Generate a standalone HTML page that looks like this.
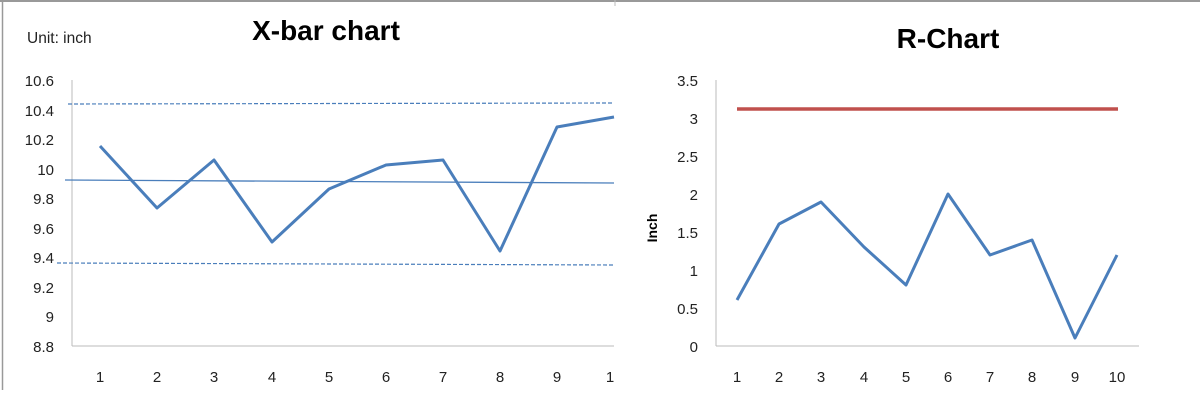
<!DOCTYPE html>
<html><head><style>
html,body{margin:0;padding:0;background:#fff;}
svg{display:block;font-family:"Liberation Sans",sans-serif;}
</style></head><body>
<svg width="1200" height="401" viewBox="0 0 1200 401">
<rect width="1200" height="401" fill="#fff"/>
<line x1="0" y1="1" x2="1200" y2="1" stroke="#999" stroke-width="2"/>
<line x1="2.5" y1="0" x2="2.5" y2="390" stroke="#999" stroke-width="1.5"/>
<line x1="615" y1="0" x2="615" y2="6" stroke="#bbb" stroke-width="1"/>

<!-- X-bar chart -->
<text x="326" y="40" font-size="28" font-weight="bold" text-anchor="middle" fill="#000">X-bar chart</text>
<text x="27" y="43" font-size="15.5" fill="#222">Unit: inch</text>
<line x1="72" y1="80" x2="72" y2="346" stroke="#bbb"/>
<line x1="72" y1="346" x2="614" y2="346" stroke="#bbb"/>
<g font-size="15" fill="#222" text-anchor="end">
<text x="54" y="86">10.6</text><text x="54" y="116">10.4</text><text x="54" y="145">10.2</text>
<text x="54" y="175">10</text><text x="54" y="204">9.8</text><text x="54" y="234">9.6</text>
<text x="54" y="263">9.4</text><text x="54" y="293">9.2</text><text x="54" y="322">9</text><text x="54" y="352">8.8</text>
</g>
<g font-size="15" fill="#222" text-anchor="middle">
<text x="100" y="382">1</text><text x="157" y="382">2</text><text x="214" y="382">3</text><text x="272" y="382">4</text>
<text x="329" y="382">5</text><text x="386" y="382">6</text><text x="443" y="382">7</text><text x="500" y="382">8</text>
<text x="557" y="382">9</text><text x="610" y="382">1</text>
</g>
<line x1="68" y1="104" x2="614" y2="103" stroke="#4a7ebb" stroke-width="1.2" stroke-dasharray="4,2"/>
<line x1="57" y1="263" x2="614" y2="265" stroke="#4a7ebb" stroke-width="1.2" stroke-dasharray="4,2"/>
<line x1="65" y1="180" x2="614" y2="183" stroke="#4a7ebb" stroke-width="1.3"/>
<polyline fill="none" stroke="#4a7ebb" stroke-width="3" stroke-linejoin="round" points="100,146 157,208 214,160 272,242 329,189 386,165 443,160 500,251 557,127 614,117"/>

<!-- R chart -->
<text x="948" y="48" font-size="28" font-weight="bold" text-anchor="middle" fill="#000">R-Chart</text>
<text transform="translate(657,228) rotate(-90)" font-size="14" font-weight="bold" text-anchor="middle" fill="#000">Inch</text>
<line x1="716" y1="80" x2="716" y2="346" stroke="#bbb"/>
<line x1="716" y1="346" x2="1139" y2="346" stroke="#bbb"/>
<g font-size="15" fill="#222" text-anchor="end">
<text x="698" y="86">3.5</text><text x="698" y="124">3</text><text x="698" y="162">2.5</text><text x="698" y="200">2</text>
<text x="698" y="238">1.5</text><text x="698" y="276">1</text><text x="698" y="314">0.5</text><text x="698" y="352">0</text>
</g>
<g font-size="15" fill="#222" text-anchor="middle">
<text x="737" y="382">1</text><text x="779" y="382">2</text><text x="821" y="382">3</text><text x="864" y="382">4</text>
<text x="906" y="382">5</text><text x="948" y="382">6</text><text x="990" y="382">7</text><text x="1032" y="382">8</text>
<text x="1075" y="382">9</text><text x="1117" y="382">10</text>
</g>
<line x1="737" y1="109" x2="1118" y2="109" stroke="#c0504d" stroke-width="3.5"/>
<polyline fill="none" stroke="#4a7ebb" stroke-width="3" stroke-linejoin="round" points="737,300 779,224 821,202 864,247 906,285 948,194 990,255 1032,240 1075,338 1117,255"/>
</svg>
</body></html>
